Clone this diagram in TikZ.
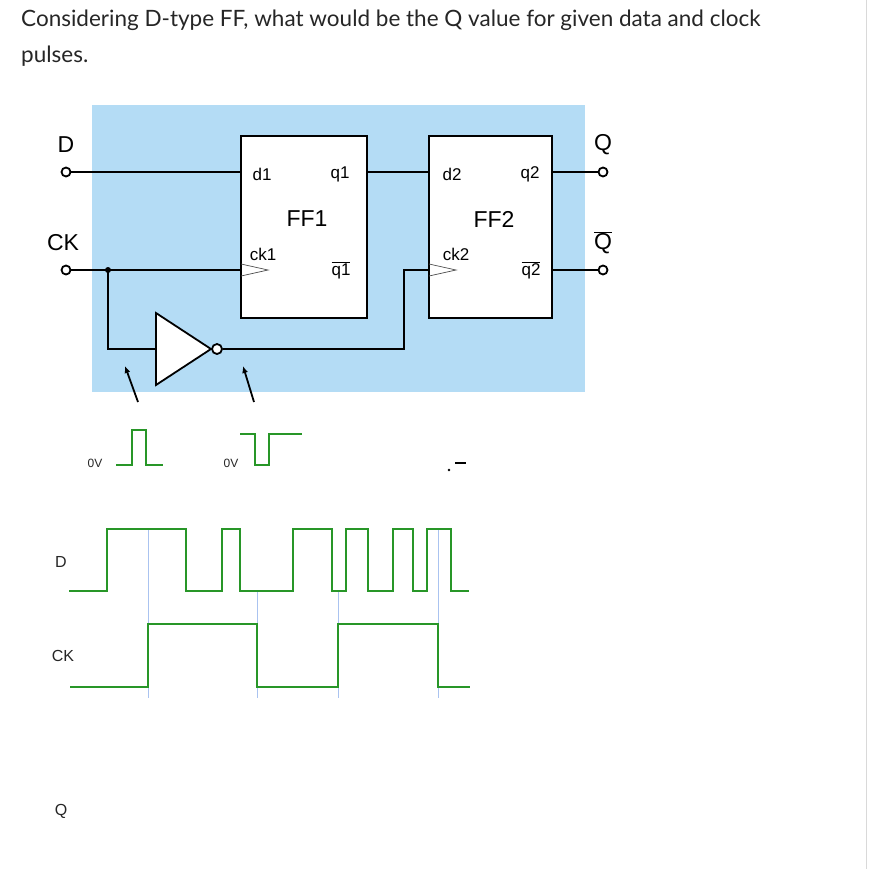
\documentclass[tikz,border=0pt]{standalone}
\usepackage{fontspec}
\setmainfont{Lato}
\newfontfamily\arial{Liberation Sans}
\usetikzlibrary{arrows.meta}
\definecolor{wg}{RGB}{40,150,40}
\definecolor{wb}{RGB}{170,195,240}
\definecolor{panel}{RGB}{180,220,245}
\begin{document}
\begin{tikzpicture}[x=1pt,y=-1pt,
  wire/.style={line width=1.8pt,black},
  grn/.style={line width=2pt,draw=wg},
  blu/.style={line width=0.7pt,draw=wb},
  term/.style={circle,draw,line width=1.8pt,fill=white,inner sep=0pt,minimum size=9pt},
  lbl/.style={font=\arial\fontsize{17}{17}\selectfont,inner sep=0pt},
  big/.style={font=\arial\fontsize{23}{23}\selectfont,inner sep=0pt},
  wl/.style={font=\arial\fontsize{16}{16}\selectfont,text=black!85,inner sep=0pt}]
\useasboundingbox (0,0) rectangle (874,869);
\fill[white] (0,0) rectangle (874,869);
\draw[black!15,line width=1pt] (866,0) -- (866,869);
\node[anchor=west,font=\fontsize{22.5}{22.5}\selectfont,text=black!85,inner sep=0pt] (t1) at (21,20) {Considering D-type FF, what would be the Q value for given data and clock};
\node[anchor=west,font=\fontsize{22.5}{22.5}\selectfont,text=black!85,inner sep=0pt] (t2) at (21,56) {pulses.};
% blue panel
\fill[panel] (92,105) rectangle (585,392);
% flip-flops
\node[draw,line width=1.8pt,fill=white,minimum width=126pt,minimum height=182pt,anchor=north west,inner sep=0pt] (ff1) at (240,135) {};
\node[draw,line width=1.8pt,fill=white,minimum width=123pt,minimum height=182pt,anchor=north west,inner sep=0pt] (ff2) at (428,135) {};
\node[lbl] (d1) at (262,174) {d1};
\node[lbl] (q1) at (340,174) {q1};
\node[big] (f1) at (307,219) {FF1};
\node[lbl] (ck1) at (263,254) {ck1};
\node[lbl] (nq1) at (341,270) {$\overline{\mbox{q1}}$};
\node[lbl] (d2) at (452,174) {d2};
\node[lbl] (q2) at (530,174) {q2};
\node[big] (f2) at (494,219) {FF2};
\node[lbl] (ck2) at (456,254) {ck2};
\node[lbl] (nq2) at (531,270) {$\overline{\mbox{q2}}$};
\draw[black!70,line width=0.7pt] (241,264) -- (268,270) -- (241,276);
\draw[black!70,line width=0.7pt] (429,264) -- (456,270) -- (429,276);
% terminals
\node[term] (tD) at (66,172) {};
\node[term] (tCK) at (66,270) {};
\node[term] (tQ) at (603,172) {};
\node[term] (tQb) at (603,270) {};
\node[big] (lD) at (66,145) {D};
\node[big] (lCK) at (63,243) {CK};
\node[big] (lQ) at (603,145) {Q};
\node[big] (lQb) at (603,243) {$\overline{\mbox{Q}}$};
\coordinate (in1) at (240,172);
\coordinate (cin1) at (240,270);
\coordinate (o1) at (366,172);
\coordinate (in2) at (428,172);
\coordinate (cin2) at (428,270);
\coordinate (o2) at (551,172);
\coordinate (o2b) at (551,270);
\coordinate (j) at (108,270);
\draw[wire] (tD) -- (in1);
\draw[wire] (o1) -- (in2);
\draw[wire] (o2) -- (tQ);
\draw[wire] (o2b) -- (tQb);
\draw[wire] (tCK) -- (cin1);
\fill (j) circle (3pt);
% inverter
\draw[line width=1.8pt,fill=white] (156,313) -- (156,385) -- (211,349) -- cycle;
\node[term,minimum size=10pt] (bub) at (217,349) {};
\draw[wire] (j) -- (108,349) -- (156,349);
\draw[wire] (bub) -- (404,349) -- (404,270) -- (cin2);
% arrows
\coordinate (a1s) at (138,402); \coordinate (a1e) at (125,366);
\coordinate (a2s) at (254,402); \coordinate (a2e) at (243,366);
\draw[line width=1.8pt,-{Latex[length=7pt,width=6pt]}] (a1s) -- (a1e);
\draw[line width=1.8pt,-{Latex[length=7pt,width=6pt]}] (a2s) -- (a2e);
% small pulses
\node[wl,font=\arial\fontsize{12}{12}\selectfont] (v1) at (95,463) {0V};
\node[wl,font=\arial\fontsize{12}{12}\selectfont] (v2) at (231,463) {0V};
\draw[grn] (116,465) -- (132,465) -- (132,430) -- (146,430) -- (146,465) -- (163,465);
\draw[grn] (240,434) -- (255,434) -- (255,465) -- (269,465) -- (269,434) -- (302,434);
\fill (449,470) circle (1.3pt);
\draw[line width=1.8pt] (455,463) -- (466,463);
% waveforms
\node[wl] (wD) at (61,562) {D};
\node[wl] (wCK) at (63,656) {CK};
\node[wl] (wQ) at (61,811) {Q};
\draw[blu] (148,529) -- (148,698);
\draw[blu] (257,591) -- (257,698);
\draw[blu] (338,591) -- (338,698);
\draw[blu] (438,529) -- (438,698);
\draw[grn] (69,591) -- (107,591) -- (107,529) -- (186,529) -- (186,591) -- (222,591) -- (222,529) -- (240,529) -- (240,591) -- (293,591) -- (293,529) -- (332,529) -- (332,591) -- (346,591) -- (346,529) -- (368,529) -- (368,591) -- (393,591) -- (393,529) -- (413,529) -- (413,591) -- (427,591) -- (427,529) -- (451,529) -- (451,591) -- (469,591);
\draw[grn] (70,687) -- (148,687) -- (148,624) -- (257,624) -- (257,687) -- (338,687) -- (338,624) -- (438,624) -- (438,687) -- (470,687);
\end{tikzpicture}
\end{document}
